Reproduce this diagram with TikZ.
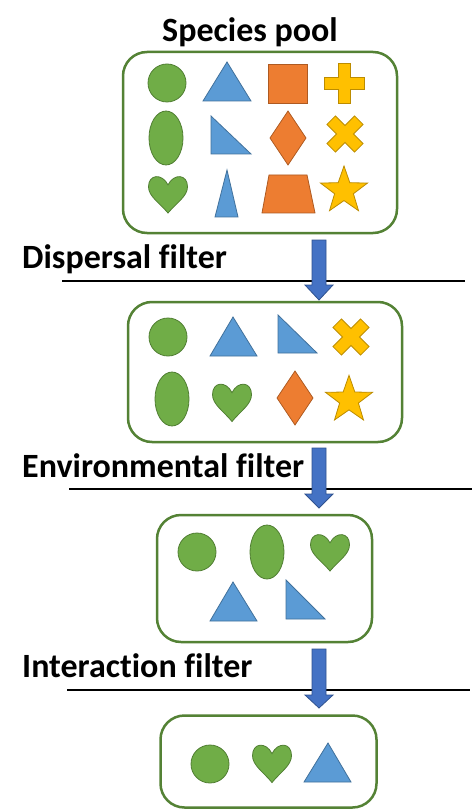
\documentclass[tikz,border=0pt]{standalone}
\usepackage{fontspec}
\setmainfont{Carlito}[Ligatures=NoCommon]
\begin{document}
\begin{tikzpicture}[x=1pt,y=-1pt,
  box/.style={draw=boxgreen,line width=2.5pt,rounded corners=24pt,fill=white,inner sep=0pt},
  label/.style={font=\bfseries\fontsize{34}{40}\selectfont,inner sep=0pt,anchor=base west},
  filterline/.style={line width=2pt,black},
  flowarrow/.style={fill=arrowblue,draw=arrowedge,line width=0.8pt},
  gshape/.style={fill=shgreen,draw=shgreenedge,line width=0.8pt},
  bshape/.style={fill=shblue,draw=shblueedge,line width=0.8pt},
  oshape/.style={fill=shorange,draw=shorangeedge,line width=0.8pt},
  yshape/.style={fill=shyellow,draw=shyellowedge,line width=0.8pt},
  heart/.pic={\path[gshape] (0,-0.48) .. controls (0.3,-1.1) and (1,-1.05) .. (1,-0.38) .. controls (1,0.12) and (0.45,0.45) .. (0,1) .. controls (-0.45,0.45) and (-1,0.12) .. (-1,-0.38) .. controls (-1,-1.05) and (-0.3,-1.1) .. (0,-0.48) -- cycle;},
  star/.pic={\path[yshape] (-90:1) -- (-54:0.4) -- (-18:1) -- (18:0.4) -- (54:1) -- (90:0.4) -- (126:1) -- (162:0.4) -- (198:1) -- (234:0.4) -- cycle;},
  cross/.pic={\path[yshape] (-0.3,-1) -- (0.3,-1) -- (0.3,-0.3) -- (1,-0.3) -- (1,0.3) -- (0.3,0.3) -- (0.3,1) -- (-0.3,1) -- (-0.3,0.3) -- (-1,0.3) -- (-1,-0.3) -- (-0.3,-0.3) -- cycle;},
  xcross/.pic={\path[yshape,rotate=45] (-6,-19.5) -- (6,-19.5) -- (6,-6) -- (19.5,-6) -- (19.5,6) -- (6,6) -- (6,19.5) -- (-6,19.5) -- (-6,6) -- (-19.5,6) -- (-19.5,-6) -- (-6,-6) -- cycle;},
]
\definecolor{boxgreen}{HTML}{548235}
\definecolor{shgreen}{HTML}{70AD47}
\definecolor{shgreenedge}{HTML}{507E32}
\definecolor{shblue}{HTML}{5B9BD5}
\definecolor{shblueedge}{HTML}{41719C}
\definecolor{shorange}{HTML}{ED7D31}
\definecolor{shorangeedge}{HTML}{AE5A21}
\definecolor{shyellow}{HTML}{FFC000}
\definecolor{shyellowedge}{HTML}{BC8C00}
\definecolor{arrowblue}{HTML}{4472C4}
\definecolor{arrowedge}{HTML}{2F528F}
\useasboundingbox[fill=white] (0,0) rectangle (474,810);

% titles
\node[font=\bfseries\fontsize{34}{40}\selectfont,inner sep=0pt,anchor=base] (title) at (250,42) {Species pool};
\node[label] (disp) at (22,268) {Dispersal filter};
\node[label] (env) at (22,477) {Environmental filter};
\node[label] (inter) at (22,677) {Interaction filter};

% filter lines
\coordinate (l1a) at (62,281); \coordinate (l1b) at (465,281);
\coordinate (l2a) at (69,489); \coordinate (l2b) at (472,489);
\coordinate (l3a) at (67,690); \coordinate (l3b) at (470,690);
\draw[filterline] (l1a) -- (l1b);
\draw[filterline] (l2a) -- (l2b);
\draw[filterline] (l3a) -- (l3b);

% arrows
\path[flowarrow] (312,240) -- (326,240) -- (326,285) -- (333,285) -- (319,300) -- (305,285) -- (312,285) -- cycle;
\path[flowarrow] (312,448) -- (326,448) -- (326,494) -- (333,494) -- (319,508) -- (305,494) -- (312,494) -- cycle;
\path[flowarrow] (312,649) -- (326,649) -- (326,695) -- (333,695) -- (319,708) -- (305,695) -- (312,695) -- cycle;

% boxes
\node[box,minimum width=274pt,minimum height=181pt] (pool) at (260,142.5) {};
\node[box,minimum width=274pt,minimum height=140pt] (b2) at (265,372) {};
\node[box,minimum width=215pt,minimum height=127pt] (b3) at (264.5,578.5) {};
\node[box,minimum width=216pt,minimum height=92pt] (b4) at (268.5,761.5) {};

% ---- species pool ----
\path[gshape] (167,83) circle (19);
\path[bshape] (203,101) -- (227,62) -- (251,101) -- cycle;
\path[oshape] (268,64) rectangle (307,103);
\pic[scale=20] at (344,83.5) {cross};
\path[gshape] (166,138) ellipse (17 and 27);
\path[bshape] (211,116) -- (211,154) -- (251,154) -- cycle;
\path[oshape] (288,111) -- (306,138) -- (288,165) -- (270,138) -- cycle;
\pic at (345,134) {xcross};
\pic[xscale=19.5,yscale=19] at (168,194) {heart};
\path[bshape] (215,217) -- (227,170) -- (238,217) -- cycle;
\path[oshape] (262,213) -- (269,175) -- (307,175) -- (315,213) -- cycle;
\pic[scale=24.7] at (344,190.7) {star};

% ---- after dispersal ----
\path[gshape] (168,337) circle (19);
\path[bshape] (210,356) -- (233,317) -- (257,356) -- cycle;
\path[bshape] (278,315) -- (278,353) -- (317,353) -- cycle;
\pic at (351,337) {xcross};
\path[gshape] (172,399) ellipse (17 and 27);
\pic[xscale=19.5,yscale=19.5] at (232,402) {heart};
\path[oshape] (295,371) -- (313,398) -- (295,425) -- (277,398) -- cycle;
\pic[scale=24.7] at (349,400) {star};

% ---- after environmental ----
\path[gshape] (197,552) circle (19);
\path[gshape] (267,552) ellipse (17 and 27);
\pic[xscale=19.5,yscale=19] at (330,552) {heart};
\path[bshape] (210,621) -- (233,582) -- (257,621) -- cycle;
\path[bshape] (286,580) -- (286,619) -- (325,619) -- cycle;

% ---- after interaction ----
\path[gshape] (210,764) circle (19);
\pic[xscale=19.5,yscale=19.5] at (272,763) {heart};
\path[bshape] (304,782) -- (328,743) -- (351,782) -- cycle;
\end{tikzpicture}
\end{document}
